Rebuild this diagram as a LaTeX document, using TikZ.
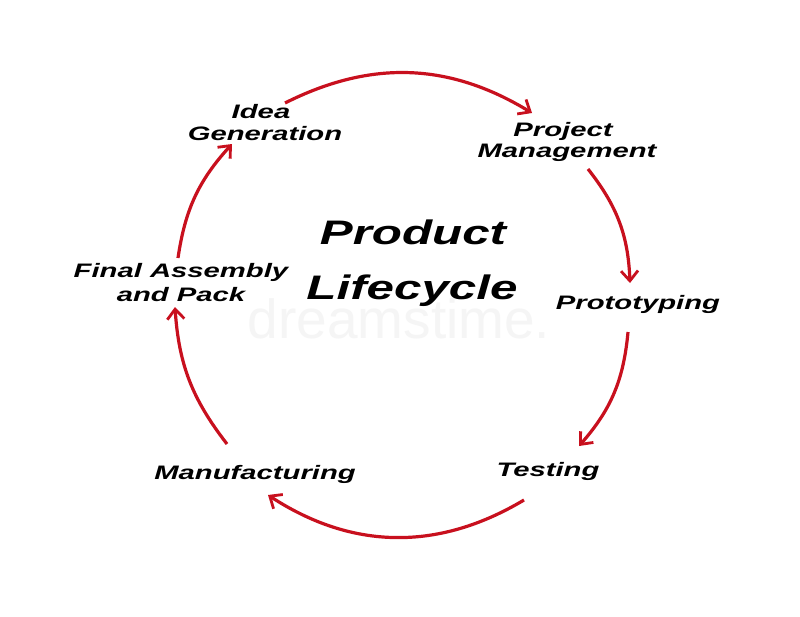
\documentclass[tikz,border=0pt]{standalone}
\usepackage{fontspec}
\setmainfont{Liberation Sans}
\newfontfamily\labfont[FakeStretch=1.5,BoldFont=*,ItalicFont=*]{Liberation Sans Bold Italic}
\newfontfamily\bigfont[FakeStretch=1.45,BoldFont=*,ItalicFont=*]{Liberation Sans Bold Italic}
\usetikzlibrary{arrows.meta}
\definecolor{arcred}{HTML}{C8101E}
\tikzset{
  lab/.style={font=\labfont\fontsize{19.5}{19.5}\selectfont, text=black, inner sep=0pt, anchor=center},
  big/.style={font=\bigfont\fontsize{34}{34}\selectfont, text=black, inner sep=0pt, anchor=center},
  wm/.style={font=\fontsize{55}{55}\selectfont, text=black!4, inner sep=0pt, anchor=center},
  arc/.style={draw=arcred, line width=3.2pt, -{Straight Barb[length=10pt,width=17pt,line width=2.8pt]}}
}
\begin{document}
\begin{tikzpicture}[x=1pt,y=-1pt]
\useasboundingbox (0,0) rectangle (800,616);
\fill[white] (0,0) rectangle (800,616);
\node[wm] (mark) at (399,319) {dreamstime.};
\node[big] (prod) at (413,232) {Product};
\node[big] (life) at (412,291) {Lifecycle};
\node[lab] (idea1) at (261,112) {Idea};
\node[lab] (idea2) at (265,134) {Generation};
\node[lab] (proj1) at (563,131) {Project};
\node[lab] (proj2) at (567,153) {Management};
\node[lab] (proto) at (638,304) {Prototyping};
\node[lab] (test) at (548,471) {Testing};
\node[lab] (manu) at (255,474) {Manufacturing};
\node[lab] (final1) at (181,272) {Final Assembly};
\node[lab] (final2) at (181,295) {and Pack};
\coordinate (a1) at (285,103); \coordinate (b1) at (532,113);
\coordinate (a2) at (588,169); \coordinate (b2) at (630,283);
\coordinate (a3) at (628,332); \coordinate (b3) at (579,446);
\coordinate (a4) at (524,500); \coordinate (b4) at (268,495);
\coordinate (a5) at (227,444); \coordinate (b5) at (175,307);
\coordinate (a6) at (178,258); \coordinate (b6) at (232,144);
\draw[arc] (a1) to[bend left=29] (b1);
\draw[arc] (a2) to[bend left=18] (b2);
\draw[arc] (a3) to[bend left=18] (b3);
\draw[arc] (a4) to[bend left=32] (b4);
\draw[arc] (a5) to[bend left=17] (b5);
\draw[arc] (a6) to[bend left=17] (b6);
\end{tikzpicture}
\end{document}
